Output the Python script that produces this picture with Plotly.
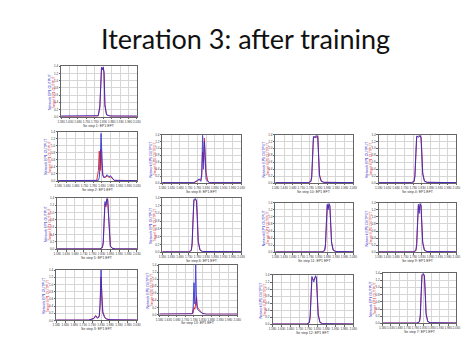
import plotly.graph_objects as go

W, H = 474, 355

TITLE = "Iteration 3: after training"

X_TICKS = [1.58, 1.63, 1.68, 1.73, 1.78, 1.83, 1.88, 1.93, 1.98, 2.03]
X_TICK_LABELS = ["1.580", "1.630", "1.680", "1.730", "1.780", "1.830",
                 "1.880", "1.930", "1.980", "2.030"]
Y_TICKS = [0.0, 0.2, 0.4, 0.6, 0.8, 1.0, 1.2, 1.4]
Y_TICK_LABELS = ["0.0", "0.2", "0.4", "0.6", "0.8", "1.0", "1.2", "1.4"]

PANEL_NAMES = ["Se step 1: EP1 EFT", "Se step 2: EP1 EFT", "Se step 8: EP1 EFT",
               "Se step 10: EP1 EFT", "Se step 4: EP1 EFT", "Se step 5: EP1 EFT",
               "Se step 6: EP1 EFT", "Se step 11: EP1 EFT", "Se step 9: EP1 EFT",
               "Se step 3: EP1 EFT", "Se step 13: EP1 EFT", "Se step 12: EP1 EFT",
               "Se step 7: EP1 EFT"]
Y_TITLE_NET = "Network EP1 OUTPUT"
Y_TITLE_TGT = "Target EP1 OUTPUT"

# panel 1 (top)
X_P1 = [1.55, 1.78, 1.80, 1.81, 1.815, 1.82, 1.825, 1.83, 1.835, 1.84, 1.85, 1.87, 2.05]
B_P1 = [0.02, 0.02, 0.03, 0.30, 1.20, 1.38, 1.32, 1.38, 1.20, 0.30, 0.05, 0.02, 0.02]
R_P1 = [0.01, 0.01, 0.02, 0.25, 1.15, 1.36, 1.30, 1.36, 1.25, 0.35, 0.06, 0.02, 0.01]
# row 1
X_R1A = [1.55, 1.80, 1.81, 1.815, 1.82, 1.825, 1.83, 1.835, 1.84, 1.85, 1.86, 1.87, 1.88, 1.90, 2.05]
B_R1A = [0.01, 0.01, 0.02, 0.10, 0.50, 1.35, 0.60, 0.20, 0.10, 0.12, 0.18, 0.12, 0.15, 0.02, 0.01]
R_R1A = [0.01, 0.01, 0.30, 0.85, 0.30, 0.90, 0.40, 0.15, 0.12, 0.10, 0.15, 0.10, 0.12, 0.02, 0.01]
X_R1B = [1.55, 1.76, 1.78, 1.79, 1.80, 1.805, 1.81, 1.815, 1.82, 1.825, 1.83, 1.84, 1.85, 2.05]
B_R1B = [0.01, 0.01, 0.08, 0.12, 0.05, 0.30, 1.38, 0.40, 1.20, 0.50, 0.10, 0.05, 0.01, 0.01]
R_R1B = [0.01, 0.01, 0.06, 0.10, 0.08, 0.20, 0.90, 0.60, 1.30, 0.80, 0.30, 0.05, 0.01, 0.01]
X_R1C = [1.55, 1.77, 1.785, 1.79, 1.795, 1.80, 1.81, 1.82, 1.825, 1.83, 1.835, 1.845, 1.86, 2.05]
B_R1C = [0.01, 0.01, 0.05, 0.20, 0.80, 1.35, 1.30, 1.38, 1.30, 0.80, 0.20, 0.05, 0.02, 0.01]
R_R1C = [0.01, 0.01, 0.04, 0.15, 0.70, 1.30, 1.36, 1.32, 1.35, 0.90, 0.25, 0.06, 0.02, 0.01]
X_R1D = [1.55, 1.77, 1.785, 1.79, 1.795, 1.80, 1.81, 1.82, 1.825, 1.83, 1.835, 1.845, 1.86, 2.05]
B_R1D = [0.01, 0.01, 0.05, 0.25, 0.85, 1.36, 1.32, 1.38, 1.30, 0.85, 0.25, 0.05, 0.02, 0.01]
R_R1D = [0.01, 0.01, 0.04, 0.18, 0.75, 1.32, 1.36, 1.33, 1.34, 0.92, 0.30, 0.06, 0.02, 0.01]
# row 2
X_R2A = [1.55, 1.82, 1.835, 1.84, 1.845, 1.85, 1.855, 1.86, 1.865, 1.87, 1.875, 1.88, 1.89, 1.91, 2.05]
B_R2A = [0.01, 0.01, 0.05, 0.20, 0.80, 1.30, 1.20, 1.38, 1.36, 0.90, 0.30, 0.08, 0.03, 0.01, 0.01]
R_R2A = [0.01, 0.01, 0.04, 0.15, 0.70, 1.25, 1.15, 1.36, 1.38, 1.00, 0.35, 0.10, 0.03, 0.01, 0.01]
X_R2B = [1.55, 1.73, 1.745, 1.75, 1.755, 1.76, 1.765, 1.77, 1.775, 1.78, 1.785, 1.795, 1.81, 2.05]
B_R2B = [0.01, 0.01, 0.05, 0.25, 0.85, 1.36, 1.37, 1.38, 1.30, 0.85, 0.25, 0.05, 0.02, 0.01]
R_R2B = [0.01, 0.01, 0.04, 0.18, 0.75, 1.32, 1.36, 1.35, 1.34, 0.92, 0.30, 0.06, 0.02, 0.01]
X_R2C = [1.55, 1.85, 1.865, 1.87, 1.875, 1.88, 1.885, 1.89, 1.895, 1.90, 1.905, 1.915, 1.93, 2.05]
B_R2C = [0.01, 0.01, 0.05, 0.25, 0.85, 1.36, 1.20, 1.38, 1.30, 0.85, 0.25, 0.05, 0.02, 0.01]
R_R2C = [0.01, 0.01, 0.04, 0.18, 0.75, 1.32, 1.25, 1.35, 1.34, 0.92, 0.30, 0.06, 0.02, 0.01]
X_R2D = [1.55, 1.78, 1.795, 1.80, 1.805, 1.81, 1.815, 1.82, 1.825, 1.83, 1.835, 1.845, 1.86, 2.05]
B_R2D = [0.01, 0.01, 0.05, 0.25, 0.85, 1.36, 1.10, 1.38, 1.30, 0.85, 0.25, 0.05, 0.02, 0.01]
R_R2D = [0.01, 0.01, 0.04, 0.18, 0.75, 1.32, 1.20, 1.35, 1.34, 0.92, 0.30, 0.06, 0.02, 0.01]
# row 3
X_R3A = [1.55, 1.76, 1.79, 1.80, 1.81, 1.82, 1.825, 1.83, 1.835, 1.84, 1.85, 1.86, 1.88, 2.05]
B_R3A = [0.01, 0.01, 0.05, 0.12, 0.06, 0.10, 0.50, 1.40, 0.60, 0.20, 0.08, 0.04, 0.02, 0.01]
R_R3A = [0.01, 0.01, 0.06, 0.14, 0.08, 0.12, 0.40, 1.20, 0.70, 0.25, 0.10, 0.04, 0.02, 0.01]
X_R3B = [1.55, 1.76, 1.77, 1.775, 1.78, 1.785, 1.79, 1.795, 1.80, 1.81, 1.82, 1.83, 1.85, 2.05]
B_R3B = [0.01, 0.01, 0.02, 0.20, 0.90, 0.30, 1.40, 0.30, 0.15, 0.10, 0.06, 0.03, 0.01, 0.01]
R_R3B = [0.01, 0.01, 0.02, 0.05, 0.20, 0.15, 0.30, 0.50, 0.20, 0.12, 0.08, 0.03, 0.01, 0.01]
X_R3C = [1.55, 1.77, 1.785, 1.79, 1.795, 1.80, 1.81, 1.82, 1.825, 1.83, 1.835, 1.845, 1.86, 2.05]
B_R3C = [0.01, 0.01, 0.05, 0.25, 0.85, 1.36, 1.20, 1.38, 1.30, 0.85, 0.25, 0.05, 0.02, 0.01]
R_R3C = [0.01, 0.01, 0.04, 0.18, 0.75, 1.32, 1.25, 1.35, 1.34, 0.92, 0.30, 0.06, 0.02, 0.01]
X_R3D = [1.55, 1.79, 1.805, 1.81, 1.815, 1.82, 1.825, 1.83, 1.835, 1.84, 1.845, 1.855, 1.87, 2.05]
B_R3D = [0.01, 0.01, 0.05, 0.25, 0.85, 1.36, 1.37, 1.38, 1.30, 0.85, 0.25, 0.05, 0.02, 0.01]
R_R3D = [0.01, 0.01, 0.04, 0.18, 0.75, 1.32, 1.36, 1.35, 1.34, 0.92, 0.30, 0.06, 0.02, 0.01]

PANEL_X = [X_P1, X_R1A, X_R1B, X_R1C, X_R1D, X_R2A, X_R2B, X_R2C, X_R2D,
           X_R3A, X_R3B, X_R3C, X_R3D]
PANEL_B = [B_P1, B_R1A, B_R1B, B_R1C, B_R1D, B_R2A, B_R2B, B_R2C, B_R2D,
           B_R3A, B_R3B, B_R3C, B_R3D]
PANEL_R = [R_P1, R_R1A, R_R1B, R_R1C, R_R1D, R_R2A, R_R2B, R_R2C, R_R2D,
           R_R3A, R_R3B, R_R3C, R_R3D]

# plot-area boxes in pixels: left, right, top, bottom
BOXES = [(50, 127, 57, 108),
         (47, 127, 123, 173), (153, 233, 126, 175), (268, 347, 126, 175), (373, 452, 126, 175),
         (46, 127, 190, 242), (153, 233, 190, 245), (268, 347, 195, 245), (373, 452, 195, 245),
         (45, 127, 263, 314), (150, 229, 258, 308), (265, 347, 268, 318), (377, 452, 266, 317)]

BLUE = "#2b2bd0"
RED = "#e0303a"
fig = go.Figure()
layout = dict(width=W, height=H, margin=dict(l=0, r=0, t=0, b=0),
              paper_bgcolor="white", plot_bgcolor="white", showlegend=False)
annotations = [dict(text=TITLE, x=0.5, y=1 - 29 / H, xref="paper", yref="paper",
                    showarrow=False, xanchor="center", yanchor="middle",
                    font=dict(family="Lato, Open Sans, sans-serif", size=27, color="#111111"))]

for i, (l, r, t, b) in enumerate(BOXES):
    n = i + 1
    sx = "" if n == 1 else str(n)
    fig.add_trace(go.Scatter(x=PANEL_X[i], y=PANEL_R[i], mode="lines",
                             line=dict(color=RED, width=1), xaxis="x" + sx, yaxis="y" + sx))
    fig.add_trace(go.Scatter(x=PANEL_X[i], y=PANEL_B[i], mode="lines", opacity=0.85,
                             line=dict(color=BLUE, width=1), xaxis="x" + sx, yaxis="y" + sx))
    axcommon = dict(showgrid=True, gridcolor="#d6d6d6", gridwidth=0.5, showline=True,
                    linecolor="#666666", linewidth=0.8, mirror=True, zeroline=False,
                    ticks="outside", ticklen=1.5, tickwidth=0.5, tickcolor="#666666",
                    tickfont=dict(size=3, color="#333333", family="Liberation Sans"))
    layout["xaxis" + sx] = dict(axcommon, domain=[l / W, r / W], range=[1.58, 2.03],
                                anchor="y" + sx, tickvals=X_TICKS, ticktext=X_TICK_LABELS,
                                tickangle=0)
    layout["yaxis" + sx] = dict(axcommon, domain=[1 - b / H, 1 - t / H], range=[0, 1.4],
                                anchor="x" + sx, tickvals=Y_TICKS, ticktext=Y_TICK_LABELS)
    annotations.append(dict(text=PANEL_NAMES[i], x=(l + r) / 2 / W, y=1 - (b + 9) / H,
                            xref="paper", yref="paper", showarrow=False,
                            xanchor="center", yanchor="middle",
                            font=dict(size=3.5, color="#333333", family="Liberation Sans")))
    annotations.append(dict(text=Y_TITLE_NET, x=(l - 12) / W, y=1 - (t + b) / 2 / H,
                            xref="paper", yref="paper", showarrow=False, textangle=-90,
                            xanchor="center", yanchor="middle",
                            font=dict(size=3.5, color=BLUE, family="Liberation Sans")))
    annotations.append(dict(text=Y_TITLE_TGT, x=(l - 8) / W, y=1 - (t + b) / 2 / H,
                            xref="paper", yref="paper", showarrow=False, textangle=-90,
                            xanchor="center", yanchor="middle",
                            font=dict(size=3.5, color=RED, family="Liberation Sans")))

layout["annotations"] = annotations
fig.update_layout(**layout)
fig.write_html("out.html")
